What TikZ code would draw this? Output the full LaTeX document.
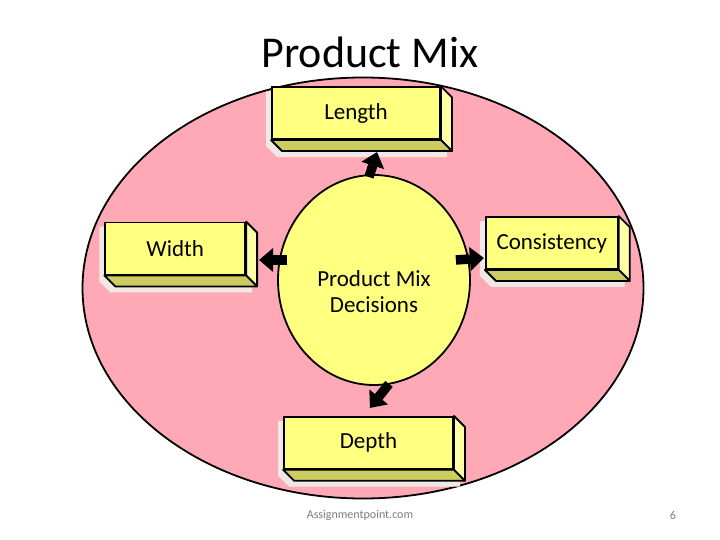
\documentclass[tikz,border=0pt]{standalone}
\usepackage{fontspec}
\setmainfont{Carlito}
\usepackage{xcolor}
\usetikzlibrary{
  shapes.geometric,
  arrows.meta,
  positioning,
  calc
}
\pgfdeclarelayer{back}
\pgfdeclarelayer{background}
\pgfsetlayers{back,background,main}
\definecolor{mixpink}{RGB}{255, 168, 182}
\definecolor{faceyellow}{RGB}{255, 255, 128}
\definecolor{sideyellow}{RGB}{255, 255, 165}
\definecolor{bottomolive}{RGB}{204, 204, 96}
\definecolor{shadowgray}{RGB}{240, 232, 228}
\definecolor{footgray}{RGB}{125, 125, 125}
\tikzset{
  bevelbox/.style = {
    rectangle, draw=black, line width=1.8pt,
    fill=faceyellow, minimum width=#1, minimum height=52pt,
    inner sep=0pt, font=\fontsize{23}{26}\selectfont
  },
  bevelbox/.default = 168pt,
  bevelside/.style   = {draw=black, line width=1.8pt, fill=sideyellow, line join=round},
  bevelbottom/.style = {draw=black, line width=1.8pt, fill=bottomolive, line join=round},
  bevelshadow/.style = {fill=shadowgray},
  coreoval/.style = {
    ellipse, draw=black, line width=1.8pt,
    fill=faceyellow, minimum width=192pt, minimum height=210pt
  },
  mixoval/.style = {
    ellipse, draw=black, line width=1.8pt,
    fill=mixpink, minimum width=561pt, minimum height=421pt
  },
  blockarr/.style = {-{Triangle[length=14pt, width=24pt, line width=0pt]},
                     draw=black, line width=9.5pt},
  lbltxt/.style = {align=center, font=\fontsize{23}{26}\selectfont},
  foot/.style   = {font=\fontsize{12}{14}\selectfont, text=footgray},
}

\begin{document}
\begin{tikzpicture}[x=1pt, y=-1pt]

  %% ── Page and outer oval ───────────────────────────────────────────────
  \begin{pgfonlayer}{back}
    \path[use as bounding box, fill=white] (0,0) rectangle (720,540);
    \node[mixoval] (mix) at (363,288) {};
  \end{pgfonlayer}

  \node[font=\fontsize{44}{50}\selectfont] (title) at (370,52) {Product Mix};

  %% ── Centre oval ───────────────────────────────────────────────────────
  \node[coreoval] (core) at (374,280) {};
  \node[lbltxt] (coretxt) at ([yshift=-12pt]core.center)
    {Product Mix\\Decisions};

  %% ── Bevelled boxes ────────────────────────────────────────────────────
  \node[bevelbox=168pt, above=34pt of core, xshift=-18pt] (length) {Length};
  \node[bevelbox=140pt, left=31pt of core, yshift=31.5pt] (width) {Width};
  \node[bevelbox=132pt, right=14pt of core, yshift=37pt] (consist) {Consistency};
  \node[bevelbox=169pt, below=30pt of core, xshift=-5.5pt] (depth) {Depth};

  \foreach \b in {length,width,consist,depth}{
    \begin{pgfonlayer}{background}
      \fill[bevelshadow] ($(\b.north west)+(-5,5)$) -- ($(\b.north east)+(-5,5)$)
        -- ($(\b.north east)+(6,16)$) -- ($(\b.south east)+(6,17)$)
        -- ($(\b.south west)+(6,17)$) -- ($(\b.south west)+(-5,6)$) -- cycle;
    \end{pgfonlayer}
    \filldraw[bevelside] (\b.north east) -- ++(11,11)
      -- ($(\b.south east)+(11,11)$) -- (\b.south east) -- cycle;
    \filldraw[bevelbottom] (\b.south west) -- ++(11,11)
      -- ($(\b.south east)+(11,11)$) -- (\b.south east) -- cycle;
  }

  %% ── Arrows ────────────────────────────────────────────────────────────
  \draw[blockarr] ([xshift=-5pt, yshift=-3pt]core.north)
    -- ([xshift=21pt, yshift=-12pt]length.south);
  \draw[blockarr] ([xshift=10pt, yshift=20pt]core.west)
    -- ([xshift=13pt, yshift=-11.5pt]width.east);
  \draw[blockarr] ([xshift=-15pt, yshift=20pt]core.east)
    -- ([xshift=-1pt, yshift=-15pt]consist.west);
  \draw[blockarr] ([xshift=15pt, yshift=2pt]core.south)
    -- ([xshift=1.5pt, yshift=8pt]depth.north);

  %% ── Footer ────────────────────────────────────────────────────────────
  \node[foot] (site) at (360,515) {Assignmentpoint.com};
  \node[foot] (page) at (673,515) {6};

\end{tikzpicture}
\end{document}
